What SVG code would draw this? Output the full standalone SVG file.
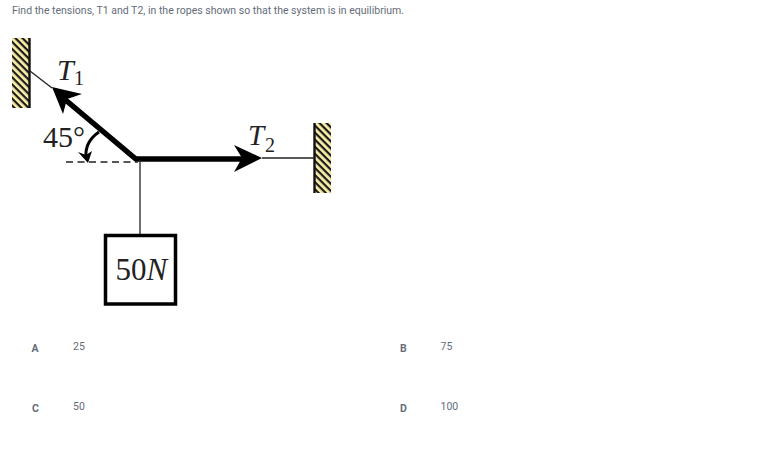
<svg xmlns="http://www.w3.org/2000/svg" width="758" height="454" viewBox="0 0 758 454">
<style>
.ui{font-family:Roboto,"Liberation Sans",sans-serif;fill:#646c7a;font-size:10.500px}
.opt{font-weight:700;font-size:10.500px}
.m{font-family:"Liberation Serif",serif;fill:#222}
.i{font-style:italic}
.thin{stroke:#222;stroke-width:1.300;fill:none}
.thick{stroke:#000;stroke-width:5.500;fill:none}
</style>
<defs>
<pattern id="hatch" width="5" height="5" patternUnits="userSpaceOnUse" patternTransform="rotate(45)">
<rect width="5" height="5" fill="#f9efa8"/>
<rect width="5" height="2.200" fill="#1a1a1a"/>
</pattern>
</defs>
<rect width="758" height="454" fill="#fff"/>
<text class="ui" x="12" y="13.500" style="font-size:10.500px">Find the tensions, T1 and T2, in the ropes shown so that the system is in equilibrium.</text>
<g id="wall-left"><rect x="12" y="38" width="18" height="70" fill="url(#hatch)"/><path d="M29.500 38V108" stroke="#111" stroke-width="2.400"/></g>
<g id="wall-right"><rect x="314" y="123" width="17" height="70" fill="url(#hatch)"/><path d="M314.500 123V193" stroke="#111" stroke-width="2.400"/></g>
<g id="connectors">
<path class="thin" d="M30 71 52 88"/>
<path class="thick" d="M137 160 62 97"/>
<path d="M52 87 82 94 67 99 63 114Z" fill="#000"/>
<path class="thick" d="M135 159H245"/>
<path d="M262 158 234 145 242 158 234 172Z" fill="#000"/>
<path class="thin" d="M262 158H314"/>
<path class="thin" d="M140 160V235"/>
<path d="M66 162H138" stroke="#222" stroke-width="1.300" stroke-dasharray="7 4.500" fill="none"/>
<path d="M99 132C90 138 85 147 86 158" stroke="#000" stroke-width="3" fill="none"/>
<path d="M78 152 88 163 92 151 86 155Z" fill="#000"/>
</g>
<g id="label-t1"><text class="m i" x="57" y="80" font-size="30">T</text><text class="m" x="74" y="85" font-size="20">1</text></g>
<g id="label-angle"><text class="m" x="43" y="147" font-size="30">45°</text></g>
<g id="label-t2"><text class="m i" x="248" y="145" font-size="29">T</text><text class="m" x="265" y="152" font-size="20">2</text></g>
<g id="block"><rect x="105.500" y="235.500" width="70" height="68.500" fill="#fff" stroke="#000" stroke-width="3.500"/><text class="m" x="115.500" y="280" font-size="31">50<tspan class="i">N</tspan></text></g>
<g id="option-a"><text class="ui opt" x="31.500" y="351.500">A</text><text class="ui" x="73" y="349.500">25</text></g>
<g id="option-b"><text class="ui opt" x="400" y="351.500">B</text><text class="ui" x="440.500" y="349.500">75</text></g>
<g id="option-c"><text class="ui opt" x="32" y="411.500">C</text><text class="ui" x="73" y="409.500">50</text></g>
<g id="option-d"><text class="ui opt" x="400" y="411.500">D</text><text class="ui" x="440.500" y="409.500">100</text></g>
</svg>
